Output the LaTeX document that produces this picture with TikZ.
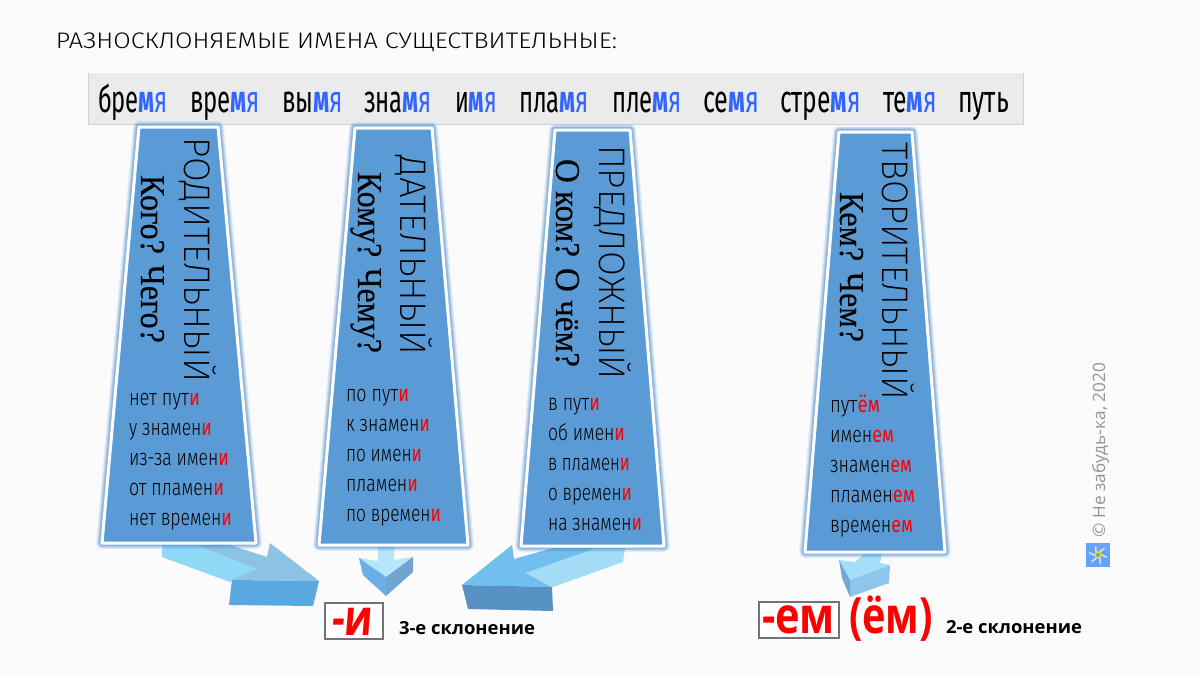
\documentclass[tikz,border=0pt]{standalone}
\usepackage{graphicx}
\usepackage{fontspec}
\setmainfont{Fira Sans}
\newfontfamily\thinf{Fira Sans}[UprightFont={* ExtraLight}]
\newfontfamily\lightf{Fira Sans}[UprightFont={* Light}]
\newfontfamily\serf{Liberation Serif}[FakeBold=0.15]
\newfontfamily\opens{Open Sans}
\newfontfamily\slantf{Open Sans}[BoldFeatures={FakeSlant=0.1}]
\definecolor{bgc}{HTML}{FBFBFB}
\definecolor{barb}{HTML}{3366FF}
\definecolor{trap}{HTML}{5B9BD5}
\definecolor{glow}{HTML}{4F8FCC}
\definecolor{redt}{HTML}{FF0000}
\newcommand\fitx[2]{\setbox0\hbox{#2}\pgfmathsetmacro\fitr{#1/\the\wd0}\scalebox{\fitr}[1]{\box0}}
\newcommand\barword[4]{\node[txt,anchor=base west] at (#1,112) {\fontsize{38}{38}\selectfont\fitx{#2}{#3\textcolor{barb}{{\bfseries м}я}}};}
\newcommand\listline[5]{\node[txt,anchor=base west] at (#1,#2) {\fontsize{23}{23}\lightf\fitx{#3}{#4\textcolor{redt}{\normalfont\fontsize{23}{23}\selectfont #5}}};}
\newcommand\traps[4]{%
 \foreach \w/\o in {12/.12,10/.16,8/.22,6/.35}{\draw[glow,line width=\w pt,opacity=\o,line join=round] #1 -- #2 -- #3 -- #4 -- cycle;}
 \draw[white,fill=trap,line width=3pt,line join=round] #1 -- #2 -- #3 -- #4 -- cycle;}
\tikzset{txt/.style={inner sep=0pt,outer sep=0pt,text=black},
 face/.style={draw=none}}
\begin{document}
\begin{tikzpicture}[x=1pt,y=-1pt]
\useasboundingbox (0,0) rectangle (1200,675);
\fill[bgc] (0,0) rectangle (1200,675);
% title
\node[txt,anchor=base west] (title) at (56,48) {\fontsize{22.5}{22.5}\lightf\fitx{561}{РАЗНОСКЛОНЯЕМЫЕ ИМЕНА СУЩЕСТВИТЕЛЬНЫЕ:}};
% bar
\fill[black!8] (88,73) rectangle (1023,124);
\draw[blue!30!gray!30,line width=1pt] (88,73) -- (88,124) -- (1023,124) -- (1023,73);
\barword{98}{70}{бре}{}
\barword{190}{70}{вре}{}
\barword{282}{61}{вы}{}
\barword{364}{68}{зна}{}
\barword{455}{42}{и}{}
\barword{519}{70}{пла}{}
\barword{612}{70}{пле}{}
\barword{703}{56}{се}{}
\barword{780}{81}{стре}{}
\barword{883}{54}{те}{}
\node[txt,anchor=base west] at (958,112) {\fontsize{38}{38}\selectfont\fitx{51}{путь}};
% arrows 1
\fill[face,color={rgb,255:red,143;green,216;blue,248}] (162,545) -- (162,557) -- (230,582) -- (257,569) -- (197,545) -- cycle;
\fill[face,color={rgb,255:red,140;green,195;blue,228}] (197,545) -- (257,569) -- (232,580) -- (319,581) -- (270,543) -- (267,557) -- (227,544) -- cycle;
\fill[face,color={rgb,255:red,90;green,168;blue,224}] (232,580) -- (319,581) -- (313,606) -- (229,605) -- cycle;
% arrow 2
\fill[face,color={rgb,255:red,181;green,230;blue,250}] (378,546) -- (394,546) -- (394,560) -- (413,557) -- (386,577) -- (359,558) -- (378,561) -- cycle;
\fill[face,color={rgb,255:red,106;green,174;blue,230}] (359,558) -- (386,577) -- (386,596) -- (363,575) -- cycle;
\fill[face,color={rgb,255:red,111;green,165;blue,208}] (413,557) -- (386,577) -- (386,596) -- (413,572) -- cycle;
% arrow 3
\fill[face,color={rgb,255:red,112;green,191;blue,238}] (462,585) -- (512,545) -- (514,559) -- (553,548) -- (597,548) -- (526,573) -- (552,587) -- cycle;
\fill[face,color={rgb,255:red,165;green,220;blue,245}] (526,573) -- (597,548) -- (625,548) -- (623,562) -- (553,587) -- cycle;
\fill[face,color={rgb,255:red,88;green,146;blue,196}] (462,585) -- (552,587) -- (553,611) -- (468,609) -- cycle;
% arrow 4
\fill[face,color={rgb,255:red,165;green,222;blue,248}] (865,553) -- (882,553) -- (880,563) -- (890,565) -- (850,580) -- (839,560) -- (855,562) -- cycle;
\fill[face,color={rgb,255:red,140;green,198;blue,234}] (890,565) -- (889,583) -- (850,597) -- (850,580) -- cycle;
\fill[face,color={rgb,255:red,111;green,168;blue,216}] (839,560) -- (850,580) -- (850,597) -- (842,578) -- cycle;
% trapezoids
\traps{(139,127)}{(218,127)}{(256,543)}{(102,543)}
\traps{(355,128)}{(432,128)}{(468,545)}{(319,545)}
\traps{(555,130)}{(630,130)}{(664,546)}{(521,546)}
\traps{(839,132)}{(912,132)}{(945,552)}{(805,552)}
% rotated
\node[txt,rotate=-90,anchor=base west] at (184,137) {\fontsize{37}{37}\thinf\fitx{245}{РОДИТЕЛЬНЫЙ}};
\node[txt,rotate=-90,anchor=base west] at (141,175) {\fontsize{35}{35}\serf\fitx{168}{Кого? Чего?}};
\node[txt,rotate=-90,anchor=base west] at (400,155) {\fontsize{37}{37}\thinf\fitx{200}{ДАТЕЛЬНЫЙ}};
\node[txt,rotate=-90,anchor=base west] at (358,172) {\fontsize{35}{35}\serf\fitx{181}{Кому? Чему?}};
\node[txt,rotate=-90,anchor=base west] at (599,145) {\fontsize{37}{37}\thinf\fitx{235}{ПРЕДЛОЖНЫЙ}};
\node[txt,rotate=-90,anchor=base west] at (556,159) {\fontsize{35}{35}\serf\fitx{208}{О ком? О чём?}};
\node[txt,rotate=-90,anchor=base west] at (882,142) {\fontsize{37}{37}\thinf\fitx{258}{ТВОРИТЕЛЬНЫЙ}};
\node[txt,rotate=-90,anchor=base west] at (840,192) {\fontsize{35}{35}\serf\fitx{150}{Кем? Чем?}};
% lists
\listline{129}{405}{71}{нет пут}{и}
\listline{129}{435}{83}{у знамен}{и}
\listline{129}{465}{100}{из-за имен}{и}
\listline{129}{495}{95}{от пламен}{и}
\listline{129}{525}{103}{нет времен}{и}
\listline{346}{401}{63}{по пут}{и}
\listline{346}{431}{84}{к знамен}{и}
\listline{346}{461}{76}{по имен}{и}
\listline{346}{491}{72}{пламен}{и}
\listline{346}{521}{95}{по времен}{и}
\listline{548}{410}{52}{в пут}{и}
\listline{548}{440}{77}{об имен}{и}
\listline{548}{470}{82}{в пламен}{и}
\listline{548}{500}{84}{о времен}{и}
\listline{548}{530}{94}{на знамен}{и}
\listline{830}{412}{50}{пут}{ём}
\listline{830}{442}{64}{имен}{ем}
\listline{830}{472}{82}{знамен}{ем}
\listline{830}{502}{85}{пламен}{ем}
\listline{830}{532}{83}{времен}{ем}
% endings
\node[draw=black!55,line width=2pt,fill=white,minimum width=58pt,minimum height=36pt,inner sep=0pt] (boxi) at (354,621) {};
\node[txt,anchor=base west,text=redt] at (331,635) {\fontsize{50}{50}\slantf\bfseries\fitx{41}{-и}};
\node[txt,anchor=base west] at (399,634) {\fontsize{18}{18}\opens\bfseries\fitx{136}{3-е склонение}};
\node[draw=black!55,line width=2pt,fill=white,minimum width=80pt,minimum height=36pt,inner sep=0pt] (boxe) at (798.5,619.5) {};
\node[txt,anchor=base west,text=redt] at (762,633) {\fontsize{50}{50}\opens\bfseries\fitx{73}{-ем}};
\node[txt,anchor=base west,text=redt] at (849,633) {\fontsize{50}{50}\opens\bfseries\fitx{84}{(ём)}};
\node[txt,anchor=base west] at (946,633) {\fontsize{18}{18}\opens\bfseries\fitx{136}{2-е склонение}};
% watermark
\node[txt,rotate=90,anchor=base west,text=black!42] at (1105,537) {\fontsize{17}{17}\opens\fitx{174}{© Не забудь-ка, 2020}};
% icon
\fill[blue!60!cyan!60!white] (1086,543) rectangle (1110,567);
\foreach \a in {0,60,...,300}{\draw[white,opacity=.7,line width=1.6pt,line cap=round] (1098,555) ++(\a:4) -- ++(\a+25:5);}
\draw[yellow!85!orange,line width=1.3pt] (1098,555) circle (3);
\end{tikzpicture}
\end{document}
